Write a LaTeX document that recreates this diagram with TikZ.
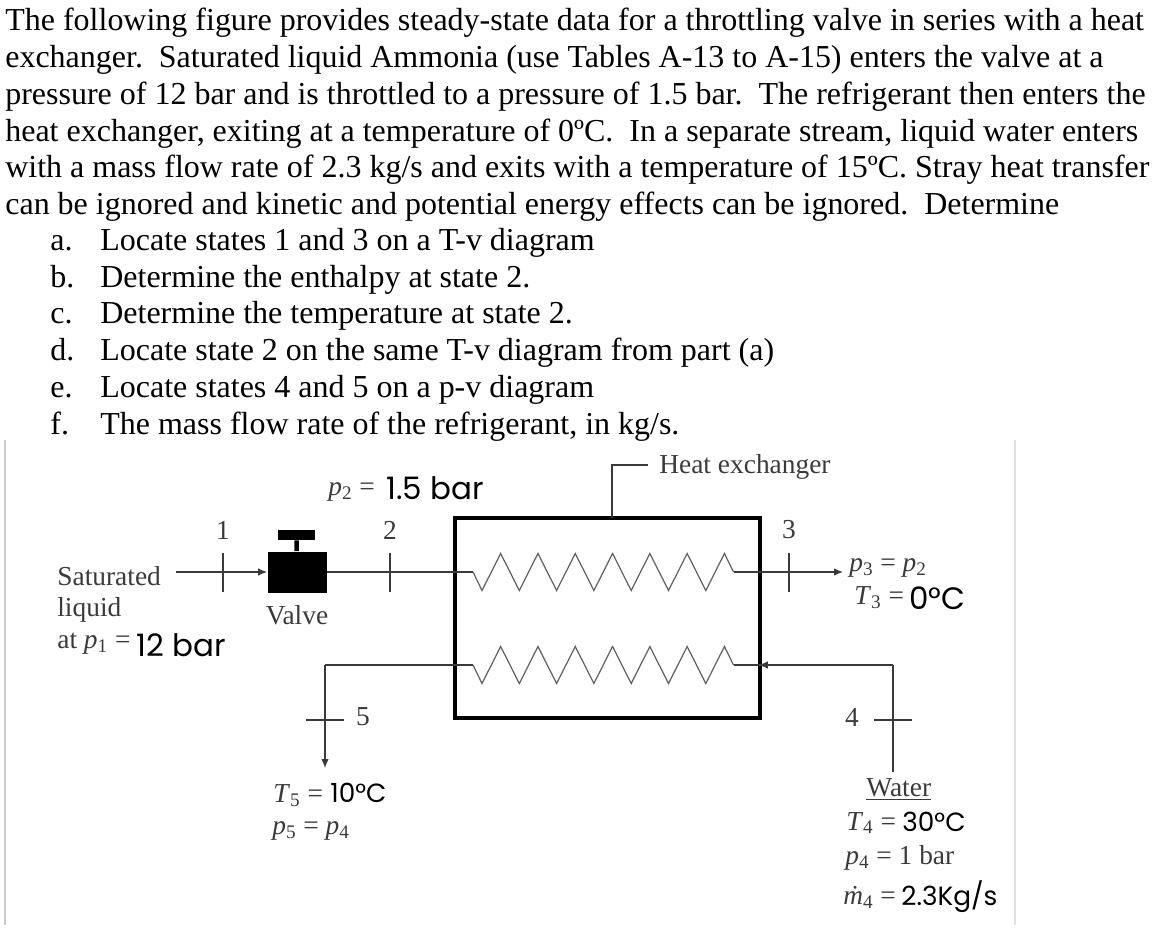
\documentclass[tikz,border=0pt]{standalone}
\usepackage{fontspec}
\setmainfont{Liberation Serif}
\newfontfamily\handfont{Poppins}
\usepackage{xcolor}
\usetikzlibrary{arrows.meta}
\definecolor{printgray}{HTML}{3A3A3A}
\tikzstyle{pipe} = [draw=printgray, line width=0.7pt]
\tikzstyle{flow} = [pipe, -{Latex[length=1.8mm, width=1.5mm]}]
\tikzstyle{coil} = [draw=printgray!80, line width=0.7pt, line join=miter]
\tikzstyle{printed} = [text=printgray, font=\fontsize{15.6}{18}\selectfont, inner sep=0pt]
\tikzstyle{hand} = [text=black, font=\fontsize{15}{18}\selectfont\handfont, inner sep=0pt]
\tikzstyle{handbig} = [text=black, font=\fontsize{17.6}{20}\selectfont\handfont, inner sep=0pt]
\newcommand{\svar}[2]{\textit{#1}\textsubscript{#2}}
\newcommand{\zig}{-- ++(0.373,0.74) -- ++(0.373,-0.74)}
\newcommand{\partlabel}[1]{\makebox[1cm][l]{#1}}

\begin{document}
\begin{tikzpicture}

        \useasboundingbox (0,0) rectangle (23.16,18.96);

        % problem statement
        \node (statement) [anchor=north west, align=left, inner sep=0pt, font=\fontsize{18.2}{20.9}\selectfont] at (0.1,18.8) {%
            The following figure provides steady-state data for a throttling valve in series with a heat\\
            exchanger.\ \ Saturated liquid Ammonia (use Tables A-13 to A-15) enters the valve at a\\
            pressure of 12 bar and is throttled to a pressure of 1.5 bar.\ \ The refrigerant then enters the\\
            heat exchanger, exiting at a temperature of 0ºC.\ \ In a separate stream, liquid water enters\\
            with a mass flow rate of 2.3 kg/s and exits with a temperature of 15ºC. Stray heat transfer\\
            can be ignored and kinetic and potential energy effects can be ignored.\ \ Determine};
        \node (parts) [anchor=north west, align=left, inner sep=0pt, font=\fontsize{18.2}{20.9}\selectfont] at (1.0,14.4) {%
            \partlabel{a.}Locate states 1 and 3 on a T-v diagram\\
            \partlabel{b.}Determine the enthalpy at state 2.\\
            \partlabel{c.}Determine the temperature at state 2.\\
            \partlabel{d.}Locate state 2 on the same T-v diagram from part (a)\\
            \partlabel{e.}Locate states 4 and 5 on a p-v diagram\\
            \partlabel{f.}The mass flow rate of the refrigerant, in kg/s.};

        % figure frame
        \coordinate (frameA) at (0.1,10.16);
        \coordinate (frameB) at (0.1,0.46);
        \coordinate (frameC) at (20.3,10.16);
        \coordinate (frameD) at (20.3,0.46);
        \draw[black!20, line width=0.6pt] (frameA) -- (frameB);
        \draw[black!12, line width=0.6pt] (frameC) -- (frameD);

        % valve and heat exchanger
        \node (valve) [fill=black, minimum width=1.18cm, minimum height=0.82cm, inner sep=0pt] at (5.94,7.52) {};
        \node (cap) [fill=black, minimum width=0.74cm, minimum height=0.2cm, inner sep=0pt] at (5.93,8.26) {};
        \draw[line width=2.6pt] (cap) -- (valve);
        \node (exchanger) [draw=black, line width=2.6pt, minimum width=6.1cm, minimum height=4cm, inner sep=0pt] at (12.15,6.6) {};

        \coordinate (inlet) at (3.52,7.52);
        \coordinate (coilA) at (9.46,7.52);
        \coordinate (coilB) at (14.67,7.52);
        \coordinate (outlet) at (16.86,7.52);
        \coordinate (coilC) at (9.46,5.66);
        \coordinate (coilD) at (14.67,5.66);
        \coordinate (elbowR) at (17.86,5.66);
        \coordinate (waterIn) at (17.86,3.52);
        \coordinate (elbowL) at (6.5,5.66);
        \coordinate (waterOut) at (6.5,3.6);
        \coordinate (leaderA) at (12.24,8.6);
        \coordinate (leaderB) at (12.24,9.66);
        \coordinate (leaderC) at (12.96,9.66);

        % coils
        \draw[coil] (coilA) -- ++(0.18,-0.37) \zig \zig \zig \zig \zig \zig -- ++(0.373,0.74) -- (coilB);
        \draw[coil] (coilC) -- ++(0.18,-0.37) \zig \zig \zig \zig \zig \zig -- ++(0.373,0.74) -- (coilD);

        % pipes
        \draw[flow] (inlet) -- (valve);
        \draw[pipe] (valve) -- (coilA);
        \draw[flow] (coilB) -- (outlet);
        \draw[pipe] (waterIn) -- (elbowR);
        \draw[flow, shorten >=-2pt] (elbowR) -- (exchanger.east |- elbowR);
        \draw[pipe] (coilD) -- (exchanger.east |- coilD);
        \draw[pipe] (coilC) -- (elbowL);
        \draw[flow] (elbowL) -- (waterOut);
        \draw[pipe] (leaderA) -- (leaderB) -- (leaderC);

        % state marks
        \coordinate (markA) at (4.46,7.52);
        \coordinate (markB) at (7.8,7.52);
        \coordinate (markC) at (15.78,7.52);
        \coordinate (markD) at (17.86,4.56);
        \coordinate (markE) at (6.5,4.56);
        \draw[pipe] (markA) ++(0,0.39) -- ++(0,-0.78);
        \draw[pipe] (markB) ++(0,0.39) -- ++(0,-0.78);
        \draw[pipe] (markC) ++(0,0.39) -- ++(0,-0.78);
        \draw[pipe] (markD) ++(-0.38,0) -- ++(0.76,0);
        \draw[pipe] (markE) ++(-0.38,0) -- ++(0.76,0);

        \node (labelA) [printed] at (4.46,8.36) {1};
        \node (labelB) [printed] at (7.8,8.36) {2};
        \node (labelC) [printed] at (15.78,8.36) {3};
        \node (labelD) [printed] at (17.04,4.62) {4};
        \node (labelE) [printed] at (7.26,4.62) {5};

        % labels
        \node (hxname) [printed, anchor=west] at (13.18,9.62) {Heat exchanger};
        \node (valvename) [printed] at (5.94,6.66) {Valve};
        \node (satA) [printed, anchor=west] at (1.14,7.44) {Saturated};
        \node (satB) [printed, anchor=west] at (1.14,6.76) {liquid};
        \node (satC) [printed, anchor=west] at (1.14,6.08) {at \svar{p}{1} =};
        \node (satP) [handbig, anchor=west] at (2.72,6.06) {12 bar};
        \node (pB) [printed, anchor=west] at (6.56,9.12) {\svar{p}{2} =};
        \node (pBval) [handbig, anchor=west] at (7.72,9.2) {1.5 bar};
        \node (pC) [printed, anchor=west] at (16.98,7.6) {\svar{p}{3} = \svar{p}{2}};
        \node (tC) [printed, anchor=west] at (17.08,7.0) {\svar{T}{3} =};
        \node (tCval) [handbig, anchor=west] at (18.18,7.0) {0°C};
        \node (tE) [printed, anchor=west] at (5.46,3.04) {\svar{T}{5} =};
        \node (tEval) [hand, anchor=west] at (6.6,3.1) {10°C};
        \node (pE) [printed, anchor=west] at (5.44,2.34) {\svar{p}{5} = \svar{p}{4}};
        \node (water) [printed, anchor=west] at (17.32,3.18) {\underline{Water}};
        \node (tD) [printed, anchor=west] at (16.92,2.5) {\svar{T}{4} =};
        \node (tDval) [hand, anchor=west] at (18.04,2.52) {30°C};
        \node (pD) [printed, anchor=west] at (16.9,1.8) {\svar{p}{4} = 1 bar};
        \node (mD) [printed, anchor=west] at (16.86,1.02) {\svar{\.m}{4} =};
        \node (mDval) [hand, anchor=west] at (18.02,1.02) {2.3Kg/s};

    \end{tikzpicture}
\end{document}
